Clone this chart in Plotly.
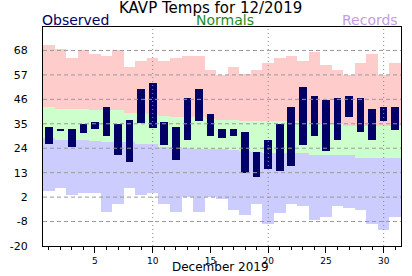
import plotly.graph_objects as go

# ---------------- data ----------------
days = list(range(1, 32))

obs_high = [34.2, 33.2, 33.2, 35.5, 36.4, 43.2, 35.5, 37.3, 51.3, 54.0, 36.4,
            34.2, 47.2, 51.3, 40.0, 33.2, 33.2, 31.5, 22.5, 28.3, 35.5, 43.2,
            52.2, 48.1, 46.4, 47.2, 48.1, 47.2, 42.3, 43.2, 43.2]
obs_low = [26.2, 32.0, 24.7, 31.2, 33.0, 29.7, 21.2, 18.1, 36.0, 33.7, 26.0,
           19.0, 27.9, 36.9, 29.7, 28.8, 29.7, 13.0, 11.2, 14.8, 13.9, 16.3,
           26.0, 29.7, 22.9, 27.9, 38.7, 31.9, 27.9, 36.9, 32.8]

rec_high = [71.1, 69.2, 65.4, 68.9, 67.1, 66.3, 68.9, 61.4, 64.0, 65.4, 64.0,
            65.4, 66.3, 66.3, 59.9, 57.5, 61.4, 58.2, 59.9, 63.2, 65.4, 66.3,
            64.0, 68.0, 62.3, 59.9, 57.5, 63.2, 67.1, 57.5, 63.2]
norm_high = [43.2, 42.3, 42.3, 42.3, 41.5, 41.5, 41.5, 40.3, 40.3, 40.0, 39.1,
             38.4, 38.4, 38.4, 37.8, 37.3, 37.3, 36.6, 36.6, 36.6, 36.6, 36.6,
             36.6, 36.0, 35.5, 35.5, 34.3, 34.3, 34.3, 34.3, 34.3]
norm_low = [28.8, 28.0, 28.0, 28.0, 27.5, 27.1, 27.1, 27.1, 26.1, 26.1, 25.0,
            25.0, 24.5, 24.2, 23.8, 23.8, 23.4, 23.0, 22.6, 22.0, 22.0, 22.0,
            22.0, 21.1, 21.1, 21.1, 21.1, 19.7, 19.7, 19.7, 19.7]
rec_low = [5.0, 6.2, 3.2, 4.1, 4.1, -4.7, -0.9, 6.2, 3.2, 4.1, -0.9, -4.7, 2.3,
           -4.7, 2.3, 1.4, -3.7, -5.8, -0.9, -9.9, -4.9, -0.9, -1.9, -8.4, -6.9,
           -1.9, -2.8, -3.7, -9.9, -12.7, -6.9]

y_tick_labels = ["-20", "-8", "2", "13", "24", "35", "46", "57", "68"]
x_tick_labels = ["5", "10", "15", "20", "25", "30"]
x_grid_days = [10, 20, 30]

# ---------------- axis config ----------------
y_min = -20.05
y_step = 11.1
y_max = 79.4
y_tickvals = [y_min + y_step * i for i in range(len(y_tick_labels))]
x_tickvals = [int(t) for t in x_tick_labels]

FONT = "DejaVu Sans"
NAVY = "#000066"

fig = go.Figure()

def band(lo, hi, color):
    fig.add_trace(go.Bar(
        x=days, y=[h - l for h, l in zip(hi, lo)], base=lo, width=1,
        marker=dict(color=color, line=dict(width=0)), showlegend=False,
        hoverinfo="skip"))

band(norm_high, rec_high, "#ffcccc")
band(norm_low, norm_high, "#ccffcc")
band(rec_low, norm_low, "#ccccff")

fig.add_trace(go.Bar(
    x=days, y=[h - l for h, l in zip(obs_high, obs_low)], base=obs_low,
    width=0.66, marker=dict(color=NAVY, line=dict(width=0)), showlegend=False))

shapes = []
for v in y_tickvals[1:]:
    shapes.append(dict(type="line", xref="paper", yref="y", x0=0, x1=1, y0=v, y1=v,
                       line=dict(color="#999999", width=1, dash="4px,3px"), layer="above"))
for d in x_grid_days:
    shapes.append(dict(type="line", xref="x", yref="paper", x0=d, x1=d, y0=0, y1=1,
                       line=dict(color="#888888", width=1, dash="1px,3px"), layer="above"))

annotations = [
    dict(text="KAVP Temps for 12/2019", x=0.469, y=1.0886, size=15, color="black"),
    dict(text="Observed", x=0.0914, y=1.033, size=14, color=NAVY),
    dict(text="Normals", x=0.5075, y=1.033, size=14, color="#1e8c1e"),
    dict(text="Records", x=0.9137, y=1.033, size=14, color="#c49ce6"),
    dict(text="December 2019", x=0.497, y=-0.097, size=12, color="black"),
]

fig.update_layout(
    width=412, height=276,
    margin=dict(l=31, r=10, t=27, b=29),
    paper_bgcolor="white", plot_bgcolor="white",
    barmode="overlay", bargap=0,
    font=dict(family=FONT, color="black"),
    shapes=shapes,
    annotations=[dict(text=a["text"], x=a["x"], y=a["y"], xref="paper", yref="paper",
                      xanchor="center", yanchor="middle", showarrow=False,
                      font=dict(family=FONT, size=a["size"], color=a["color"]))
                 for a in annotations],
    xaxis=dict(range=[0.5, 31.5], tickmode="array", tickvals=x_tickvals,
               ticktext=x_tick_labels, ticks="outside", ticklen=6, tickcolor="black",
               tickfont=dict(size=9, family=FONT), showgrid=False, zeroline=False,
               showline=True, linecolor="black", linewidth=1, mirror=True,
               minor=dict(tickmode="array", tickvals=days, ticks="outside",
                          ticklen=3, tickcolor="black", showgrid=False)),
    yaxis=dict(range=[y_min, y_max], tickmode="array", tickvals=y_tickvals,
               ticktext=y_tick_labels, ticks="", showgrid=False, zeroline=False,
               tickfont=dict(size=11, family=FONT), ticklabelstandoff=12,
               showline=True, linecolor="black", linewidth=1, mirror=True),
)

fig.write_html("out.html", config={"displayModeBar": False},
               post_script="document.body.style.margin='0';document.body.style.overflow='hidden';")
